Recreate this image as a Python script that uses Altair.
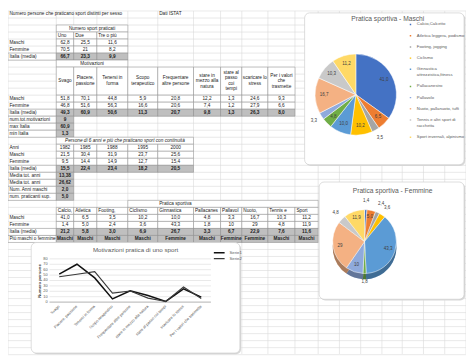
import json
import altair as alt
import pandas as pd

# ---------------- values read from the sheet ----------------
NUM_SPORT_HDR = ["Uno", "Due", "Tre o più"]
NUM_SPORT_M = [62.8, 25.5, 11.6]
NUM_SPORT_F = [70.5, 21, 8.2]
NUM_SPORT_IT = [66.7, 23.3, 9.9]

MOTIVI = ["Svago", "Piacere, passione", "Tenersi in forma", "Scopo terapeutico",
          "Frequentare altre persone", "stare in mezzo alla natura",
          "stare al passo coi tempi", "scaricare lo stress", "Per i valori che trasmette"]
MOTIVI_HDR = ["Svago", "Piacere,\npassione", "Tenersi in\nforma", "Scopo\nterapeutico",
              "Frequentare\naltre persone", "stare in\nmezzo alla\nnatura",
              "stare al\npasso\ncoi\ntempi", "scaricare lo\nstress", "Per i valori\nche\ntrasmette"]
MOT_M = [51.8, 70.1, 44.8, 5.9, 20.8, 12.2, 1.3, 24.6, 9.3]
MOT_F = [46.8, 51.6, 56.3, 16.6, 20.6, 7.4, 1.2, 27.9, 6.6]
MOT_IT = [49.3, 60.9, 50.6, 11.3, 20.7, 9.8, 1.3, 26.3, 8.0]
MOT_STAT_NAMES = ["num.tot.motivazioni", "max Italia", "min Italia"]
MOT_STAT_VALUES = [9, 60.9, 1.3]

ANNI = ["1982", "1985", "1988", "1995", "2000"]
ANNI_M = [21.5, 30.4, 31.9, 23.7, 25.6]
ANNI_F = [9.5, 14.4, 14.9, 12.7, 15.4]
ANNI_IT = [15.5, 22.4, 23.4, 18.2, 20.5]
ANNI_STAT_NAMES = ["Media tot. anni", "Media tot. anni", "Num. Anni maschi", "num. praticanti sup."]
ANNI_STAT_VALUES = [13.38, 26.62, 2.0, 5.0]
ANNI_STAT_DEC = [2, 2, 1, 1]

SPORT = ["Calcio,Calcetto", "Atletica leggera, podismo", "Footing, jogging", "Ciclismo",
         "Ginnastica attrezzistica,fitness", "Pallacanestro", "Pallavolo",
         "Nuoto, pallanuoto, tuffi", "Tennis e altri sport di racchetta", "Sport invernali, alpinismo"]
SPORT_SHEET = ["Calcio,", "Atletica", "Footing,", "Ciclismo", "Ginnastica", "Pallacanes",
               "Pallavol", "Nuoto,", "Tennis e", "Sport"]
SPORT_M = [41.0, 6.5, 3.5, 10.2, 10.0, 4.8, 3.3, 16.7, 10.3, 11.2]
SPORT_F = [1.4, 5.0, 2.4, 3.6, 43.3, 1.8, 10, 29, 4.8, 11.9]
SPORT_IT = [21.2, 5.8, 3.0, 6.9, 26.7, 3.3, 6.7, 22.9, 7.6, 11.6]
SPORT_PIU = ["Maschi", "Maschi", "Maschi", "Maschi", "Femmine", "Maschi", "Femmine",
             "Femmine", "Maschi", "Maschi"]

SERIE = ["Serie1", "Serie2"]
Y_TICKS = [0, 10, 20, 30, 40, 50, 60, 70, 80]

PALETTE = ["#4472C4", "#ED7D31", "#A5A5A5", "#FFC000", "#5B9BD5", "#70AD47",
           "#8FAADC", "#F4B183", "#C9C9C9", "#FFD966"]

# ---------------- layout ----------------
W, H = 466, 349
RW, RH = 474.0, 357.0


def px(x):
    return round(x * W / RW, 2)


def py(y):
    return round(y * H / RH, 2)


FONT = "Liberation Sans"
COL_EDGES = [0, 50, 68, 92, 124, 155, 192, 220, 242, 269, 297, 321, 343, 365, 387, 408, 430, 452, 474]
ROW_H = 7.3
N_ROWS = 49
GRAY = "#bfbfbf"
LINE_H = 5.6                      # line height of wrapped cell text, in chart pixels
LINE_H_REF = LINE_H * RH / H      # same in sheet units


def fmt(v, d=1):
    if isinstance(v, int):
        return str(v)
    return f"{v:.{d}f}".replace(".", ",")


cells = []


def add(c0, c1, r0, r1, text, align="center", kind="n", fill="white", border=True, tx=None):
    x0, x1 = COL_EDGES[c0], COL_EDGES[c1 + 1]
    y0, y1 = r0 * ROW_H, (r1 + 1) * ROW_H
    if tx is None:
        tx = x0 + 1.5 if align == "left" else (x0 + x1) / 2
    n_lines = text.count("\n") + 1
    ty = (y0 + y1) / 2 - (n_lines - 1) * LINE_H_REF / 2
    cells.append(dict(x0=x0, x1=x1, y0=y0, y1=y1, tx=tx, ty=ty,
                      text=text, align=align, kind=kind, fill=fill, border=border))


def data_rows(rows, start_col=1):
    for r, lab, vals, kind in rows:
        bold = kind == "b"
        add(0, 0, r, r, lab, "left", border=bold)
        for j, v in enumerate(vals):
            add(start_col + j, start_col + j, r, r, v if isinstance(v, str) else fmt(v),
                "center", kind, GRAY if bold else "white")


# title row
add(0, 0, 0, 0, "Numero persone che praticano sport distinti per sesso", "left", border=False)
add(5, 5, 0, 0, "Dati ISTAT", "left", border=False)
# block 1: numero sport praticati
add(1, 3, 2, 2, "Numero sport praticati")
for j, h in enumerate(NUM_SPORT_HDR):
    add(1 + j, 1 + j, 3, 3, h, "left")
data_rows([(4, "Maschi", NUM_SPORT_M, "n"), (5, "Femmine", NUM_SPORT_F, "n"),
           (6, "Italia (media)", NUM_SPORT_IT, "b")])
# block 2: motivazioni
add(1, 3, 7, 7, "Motivazioni")
for j, h in enumerate(MOTIVI_HDR):
    add(1 + j, 1 + j, 8, 11, h)
data_rows([(12, "Maschi", MOT_M, "n"), (13, "Femmine", MOT_F, "n"),
           (14, "Italia (media)", MOT_IT, "b")])
for i, (n, v) in enumerate(zip(MOT_STAT_NAMES, MOT_STAT_VALUES)):
    add(0, 0, 15 + i, 15 + i, n, "left")
    add(1, 1, 15 + i, 15 + i, fmt(v), "center", "b", GRAY)
# block 3: anni
add(1, 5, 18, 18, "Persone di 6 anni e più che praticano sport con continuità", "center", "i")
add(0, 0, 19, 19, "Anni", "left", border=False)
for j, a in enumerate(ANNI):
    add(1 + j, 1 + j, 19, 19, a)
data_rows([(20, "Maschi", ANNI_M, "n"), (21, "Femmine", ANNI_F, "n"),
           (22, "Italia (media)", ANNI_IT, "b")])
for i, (n, v, d) in enumerate(zip(ANNI_STAT_NAMES, ANNI_STAT_VALUES, ANNI_STAT_DEC)):
    add(0, 0, 23 + i, 23 + i, n, "left")
    add(1, 1, 23 + i, 23 + i, fmt(v, d), "center", "b", GRAY)
# block 4: pratica sportiva
add(4, 10, 27, 27, "")
add(5, 5, 27, 27, "Pratica sportiva", "left", border=False)
for j, s in enumerate(SPORT_SHEET):
    add(1 + j, 1 + j, 28, 28, s, "left")
data_rows([(29, "Maschi", SPORT_M, "n"), (30, "Femmine", SPORT_F, "n"),
           (31, "Italia (media)", SPORT_IT, "b"), (32, "Più maschi o femmine", SPORT_PIU, "b")])

cells_df = pd.DataFrame(cells)

XS = alt.Scale(domain=[0, RW], nice=False, zero=False)
YS = alt.Scale(domain=[0, RH], nice=False, zero=False, reverse=True)


def SX(f):
    return alt.X(f, type="quantitative", scale=XS, axis=None)


def SY(f):
    return alt.Y(f, type="quantitative", scale=YS, axis=None)


vgrid = alt.Chart(pd.DataFrame({"gx": COL_EDGES})).mark_rule(
    color="#dadada", strokeWidth=0.6).encode(x=SX("gx"), y=alt.value(0), y2=alt.value(H))
hgrid = alt.Chart(pd.DataFrame({"gy": [i * ROW_H for i in range(N_ROWS + 1)]})).mark_rule(
    color="#dadada", strokeWidth=0.6).encode(y=SY("gy"), x=alt.value(0), x2=alt.value(W))

bordered = cells_df[cells_df["border"]].drop(columns=["border"])
rects = alt.Chart(bordered).mark_rect(stroke="#8a8a8a", strokeWidth=0.5).encode(
    x=SX("x0"), x2=alt.X2("x1"), y=SY("y0"), y2=alt.Y2("y1"),
    fill=alt.Fill("fill:N", scale=None))

txt_layers = []
texts = cells_df[cells_df["text"] != ""].drop(columns=["border"])
for (al, kind), sub in texts.groupby(["align", "kind"]):
    txt_layers.append(
        alt.Chart(sub).mark_text(
            align=al, baseline="middle", font=FONT, fontSize=4.8,
            fontWeight="bold" if kind == "b" else "normal",
            fontStyle="italic" if kind == "i" else "normal",
            color="#1a1a1a", lineBreak="\n", lineHeight=LINE_H,
        ).encode(x=SX("tx"), y=SY("ty"), text="text:N")
    )

CARDS = pd.DataFrame({"x0": [307, 322, 24], "x1": [472, 472, 240],
                      "y0": [2, 178, 241], "y1": [160, 300, 356]})
shadow_df = CARDS.assign(x0=CARDS.x0 + 1.2, x1=CARDS.x1 + 1.2, y0=CARDS.y0 + 1.2, y1=CARDS.y1 + 1.2)
card_shadow = alt.Chart(shadow_df).mark_rect(fill="#d8d8d8", cornerRadius=5).encode(
    x=SX("x0"), x2=alt.X2("x1"), y=SY("y0"), y2=alt.Y2("y1"))
cards = alt.Chart(CARDS).mark_rect(fill="white", stroke="#cdcdcd", strokeWidth=0.7,
                                   cornerRadius=5).encode(
    x=SX("x0"), x2=alt.X2("x1"), y=SY("y0"), y2=alt.Y2("y1"))

TITLES = pd.DataFrame({"x": [393, 398, 132], "y": [8, 187, 249],
                       "text": ["Pratica sportiva - Maschi", "Pratica sportiva - Femmine",
                                "Motivazioni pratica di uno sport"],
                       "s": [6.8, 6.8, 6.3]})
titles = alt.Chart(TITLES).mark_text(font=FONT, color="#595959", baseline="middle").encode(
    x=SX("x"), y=SY("y"), text="text:N", size=alt.Size("s:Q", scale=None))

sheet = alt.layer(vgrid, hgrid, rects, *txt_layers, card_shadow, cards, titles)

# ---------------- line chart ----------------
LX = alt.Scale(type="point", domain=MOTIVI, range=[px(53), px(200)], padding=0)
LY = alt.Scale(domain=[0, 80], range=[py(303), py(258)], nice=False, zero=False)
line_df = pd.DataFrame({"motivo": MOTIVI * 2, "k": list(range(len(MOTIVI))) * 2,
                        "serie": [SERIE[0]] * len(MOTIVI) + [SERIE[1]] * len(MOTIVI),
                        "v": MOT_M + MOT_F})
ticks_df = pd.DataFrame({"t": Y_TICKS})
grid_l = alt.Chart(ticks_df).mark_rule(color="#d9d9d9", strokeWidth=0.6).encode(
    y=alt.Y("t:Q", scale=LY, axis=None), x=alt.value(px(43)), x2=alt.value(px(210)))
base0 = alt.Chart(pd.DataFrame({"t": [0]})).mark_rule(color="#a6a6a6", strokeWidth=0.7).encode(
    y=alt.Y("t:Q", scale=LY, axis=None), x=alt.value(px(43)), x2=alt.value(px(210)))
ylabels = alt.Chart(ticks_df).mark_text(align="right", baseline="middle", fontSize=4,
                                        font=FONT, color="#595959").encode(
    y=alt.Y("t:Q", scale=LY, axis=None), x=alt.value(px(41)), text="t:Q")
xlabels = alt.Chart(pd.DataFrame({"motivo": MOTIVI})).mark_text(
    align="right", baseline="middle", angle=315, fontSize=4, font=FONT, color="#595959").encode(
    x=alt.X("motivo:N", scale=LX, axis=None), y=alt.value(py(307)), text="motivo:N")
ytitle = alt.Chart(pd.DataFrame({"s": ["Numero persone"]})).mark_text(
    angle=270, fontSize=4.3, fontWeight="bold", font=FONT, color="#404040").encode(
    x=alt.value(px(33)), y=alt.value(py(281)), text="s:N")
lines = alt.Chart(line_df).mark_line().encode(
    x=alt.X("motivo:N", scale=LX, axis=None),
    y=alt.Y("v:Q", scale=LY, axis=None),
    order="k:Q",
    color=alt.Color("serie:N", scale=alt.Scale(domain=SERIE, range=["#111111", "#3a3a3a"]),
                    legend=alt.Legend(orient="none", legendX=px(212), legendY=py(249), title=None,
                                      symbolType="stroke", symbolSize=120, symbolStrokeWidth=1.4,
                                      labelFont=FONT, labelFontSize=4.3, labelColor="#595959",
                                      rowPadding=1, clipHeight=5)),
    strokeWidth=alt.StrokeWidth("serie:N", scale=alt.Scale(domain=SERIE, range=[1.5, 1.1]),
                                legend=None),
)
line_layer = alt.layer(grid_l, base0, ylabels, xlabels, ytitle, lines)

# ---------------- pies ----------------
WRAP = {"Ginnastica attrezzistica,fitness": ["Ginnastica", "attrezzistica,fitness"],
        "Tennis e altri sport di racchetta": ["Tennis e altri sport di", "racchetta"]}
label_expr = "datum.label"
for k, v in WRAP.items():
    label_expr = f"datum.label == {json.dumps(k)} ? {json.dumps(v)} : ({label_expr})"


def pie(values, cx, cy, r, lx, ly, legend_vals, outside_below, row_pad, depth=0):
    df = pd.DataFrame({"sport": SPORT, "v": values, "i": list(range(len(SPORT))),
                       "lab": [fmt(v) for v in values]})
    base = alt.Chart(df).encode(theta=alt.Theta("v:Q", stack=True), order=alt.Order("i:Q"),
                                x=alt.value(px(cx)), y=alt.value(py(cy)))
    R = px(r)
    layers = []
    if depth:
        layers.append(base.mark_arc(radius=R).encode(
            y=alt.value(py(cy + depth)),
            fill=alt.Fill("sport:N", scale=alt.Scale(domain=SPORT, range=PALETTE), legend=None)))
        layers.append(base.mark_arc(radius=R, fill="black", opacity=0.3).encode(
            y=alt.value(py(cy + depth))))
    layers.append(base.mark_arc(radius=R, stroke="white", strokeWidth=0.5).encode(
        color=alt.Color("sport:N", scale=alt.Scale(domain=SPORT, range=PALETTE),
                        legend=alt.Legend(orient="none", legendX=px(lx), legendY=py(ly), title=None,
                                          values=legend_vals, symbolType="square", symbolSize=9,
                                          labelFont=FONT, labelFontSize=4.3, labelColor="#595959",
                                          labelLimit=80, rowPadding=row_pad, clipHeight=6,
                                          labelExpr=label_expr))))
    layers.append(base.transform_calculate(
        t=f"datum.v >= {outside_below} ? datum.lab : ''").mark_text(
        radius=R * 0.78, fontSize=4.6, font=FONT, color="#404040").encode(text="t:N"))
    layers.append(base.transform_calculate(
        t=f"datum.v < {outside_below} ? datum.lab : ''").mark_text(
        radius=R * 1.22 + (depth * 0.3 if depth else 0), fontSize=4.6, font=FONT,
        color="#404040").encode(text="t:N"))
    return alt.layer(*layers)


male = pie(SPORT_M, 360, 87, 42, 414, 11, SPORT, 4, 5.4)
female = pie(SPORT_F, 369, 240, 33, 420, 193, SPORT[:7], 4.9, 5.6, depth=6)

chart = alt.layer(sheet, line_layer, male, female).resolve_scale(
    x="independent", y="independent", color="independent", theta="independent",
    fill="independent", strokeWidth="independent", size="independent",
).properties(
    width=W, height=H, padding=0, autosize=alt.AutoSizeParams(type="none"), background="white"
).configure_view(strokeWidth=0)

chart.save("out.html", embed_options={"renderer": "svg", "actions": False})
